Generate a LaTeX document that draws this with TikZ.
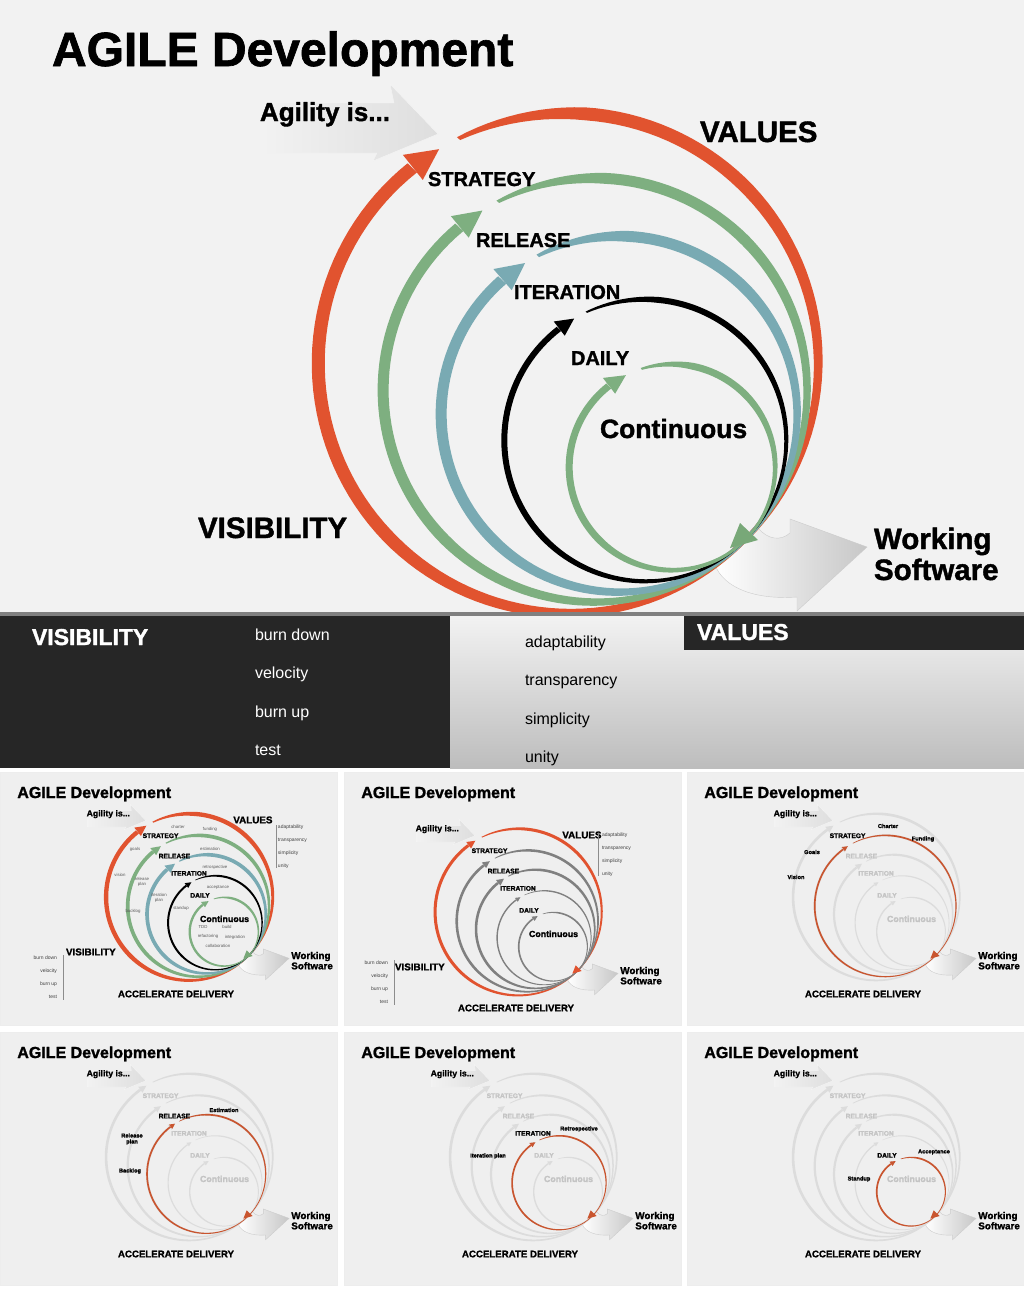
\documentclass[tikz,border=0pt]{standalone}
\usepackage{fontspec}
\setmainfont{Liberation Sans}[BoldFeatures={FakeBold=1.4}]
\usetikzlibrary{calc}

\definecolor{agred}{HTML}{E1532F}
\definecolor{aggreen}{HTML}{7EAF80}
\definecolor{agblue}{HTML}{79AAB3}
\definecolor{agtri}{HTML}{78A878}
\definecolor{slidebg}{HTML}{F2F2F2}
\definecolor{panelbg}{HTML}{EFEFEF}
\definecolor{bandblack}{HTML}{262626}
\definecolor{fade}{HTML}{DCDCDC}
\definecolor{fadetext}{HTML}{C4C4C4}
\definecolor{hilite}{HTML}{C9552F}

\colorlet{loopV}{agred}
\colorlet{loopS}{aggreen}
\colorlet{loopR}{agblue}
\colorlet{loopI}{black}
\colorlet{loopD}{aggreen}
\colorlet{tipP}{agtri}
\colorlet{labS}{black}
\colorlet{labR}{black}
\colorlet{labI}{black}
\colorlet{labD}{black}
\colorlet{labC}{black}
\def\wscale{1}

% one loop of the spiral: radius, colour, width, tail angle, tip angle
\newcommand\loopband[5]{%
  \pgfmathsetmacro\bandw{#3}%
  \pgfmathsetmacro\cx{745-0.7071*#1}%
  \pgfmathsetmacro\cy{-540+0.7071*#1}%
  \pgfmathsetmacro\hb{#5+deg((2*\bandw+6)/#1)}%
  \pgfmathsetmacro\ro{#1+\bandw+3}%
  \pgfmathsetmacro\ri{#1-\bandw-3}%
  \pgfmathsetmacro\sw{#4-\hb+360}%
  \begin{scope}[shift={(\cx,\cy)},
      declare function={aa(\s)=#4-\s*\sw;
        bw(\s)=\bandw*min(1,0.3+\s*8)*(0.35+0.65*min(1,abs(aa(\s)+45)/90));}]
    \fill[#2] plot[domain=0:1,samples=140,variable=\s]
        ({(#1+bw(\s)/2)*cos(aa(\s))},{(#1+bw(\s)/2)*sin(aa(\s))})
      -- plot[domain=0:1,samples=140,variable=\s]
        ({(#1-bw(1-\s)/2)*cos(aa(1-\s))},{(#1-bw(1-\s)/2)*sin(aa(1-\s))}) -- cycle;
    \fill[#2] (#5:#1) -- (\hb:\ro) -- (\hb:\ri) -- cycle;
  \end{scope}}

\newcommand\agiletitle{\node[heading] (title) at (52,-66) {AGILE Development};}

\newcommand\agilearrows{%
  \shadedraw[left color=slidebg,right color=black!13,draw=black!4]
    (262,-103) -- (394,-103) -- (390,-84) -- (438,-134) -- (373,-161)
    -- (377,-153) -- (262,-153) -- cycle;
  \shadedraw[left color=white,right color=black!22,draw=black!20]
    (758,-528) .. controls (768,-540) and (781,-541) .. (790,-533)
    -- (790,-519) -- (867,-547) -- (797,-611) -- (797,-597)
    .. controls (755,-600) and (724,-588) .. (715,-565) -- cycle;
}

\newcommand\agileloops{%
  \loopband{250}{loopV}{13*\wscale}{116.2}{121.1}
  \loopband{212}{loopS}{11*\wscale}{117.5}{122.1}
  \loopband{178}{loopR}{11*\wscale}{117.4}{121.9}
  \loopband{141}{loopI}{6*\wscale}{114.9}{120.3}
  \loopband{103}{loopD}{7*\wscale}{107.6}{116.7}
}

\newcommand\agiletip{\fill[tipP] (740,-523) -- (758,-540) -- (730,-548) -- cycle;}

\newcommand\agilelabels{%
  \node[agil] (agility) at (260,-121) {Agility is...};
  \node[stage,text=labS] (strategy) at (428,-186) {STRATEGY};
  \node[stage,text=labR] (release) at (476,-247) {RELEASE};
  \node[stage,text=labI] (iteration) at (514,-299) {ITERATION};
  \node[stage,text=labD] (daily) at (571,-365) {DAILY};
  \node[cont,text=labC] (continuous) at (600,-438) {Continuous};
  \node[bigword] (working) at (874,-580) {Working\\Software};
}

\newcommand\agilecorners{%
  \node[bigword] (values) at (700,-142) {VALUES};
  \node[bigword] (visibility) at (198,-538) {VISIBILITY};
}

% lists beside VALUES and VISIBILITY
\newcommand\valuelist[3]{%
  \foreach \w [count=\i] in {adaptability,transparency,simplicity,unity}
    \node[listitem,anchor=west] at (#1,{#2-39*(\i-1)}) {\w};
  \draw[black!45,line width=0.8pt] (#3,#2+6) -- (#3,#2-123);
}
\newcommand\visiblist[3]{%
  \foreach \w [count=\i] in {burn down,velocity,burn up,test}
    \node[listitem,anchor=east] at (#1,{#2-39*(\i-1)}) {\w};
  \draw[black!45,line width=0.8pt] (#3,#2+9) -- (#3,#2-126);
}

\newcommand\agilenotes{%
  \foreach \txt/\px/\py in {charter/534/153,funding/630/159,goals/405/219,
      estimation/630/219,vision/360/297,release\\plan/426/318,
      retrospective/645/273,iteration\\plan/477/365,acceptance/654/336,
      backlog/399/405,standup/543/396,TDD/609/453,build/681/453,
      refactoring/624/480,integration/705/483,collaboration/654/510}
    \node[note] at (\px,-\py) {\txt};
}

\newcommand\fadepanel{%
  \colorlet{loopV}{fade}\colorlet{loopS}{fade}\colorlet{loopR}{fade}%
  \colorlet{loopI}{fade}\colorlet{loopD}{fade}\colorlet{tipP}{hilite}%
  \colorlet{labS}{fadetext}\colorlet{labR}{fadetext}\colorlet{labI}{fadetext}%
  \colorlet{labD}{fadetext}\colorlet{labC}{fadetext}%
  \def\wscale{0.6}%
}

\begin{document}
\begin{tikzpicture}[x=1pt,y=1pt,
    every node/.style={inner sep=0pt,outer sep=0pt},
    heading/.style={anchor=base west,font=\bfseries\fontsize{48}{50}\selectfont},
    bigword/.style={anchor=base west,align=left,font=\bfseries\fontsize{29.5}{31}\selectfont},
    agil/.style={anchor=base west,font=\bfseries\fontsize{26}{28}\selectfont},
    stage/.style={anchor=base west,font=\bfseries\fontsize{20}{22}\selectfont},
    cont/.style={anchor=base west,font=\bfseries\fontsize{26.5}{28}\selectfont},
    delivery/.style={font=\bfseries\fontsize{29}{31}\selectfont},
    listitem/.style={font=\fontsize{15}{17}\selectfont,text=black!75},
    note/.style={align=center,font=\fontsize{13}{14}\selectfont,text=black!65},
    keynote/.style={align=center,font=\bfseries\fontsize{17}{18}\selectfont},
    bandhead/.style={anchor=base west,text=white,font=\bfseries\fontsize{23}{25}\selectfont},
    banditem/.style={anchor=base west,font=\fontsize{16}{18}\selectfont}]
  \useasboundingbox (0,0) rectangle (1024,-1291);
  \fill[white] (0,0) rectangle (1024,-1291);
  \fill[slidebg] (0,0) rectangle (1024,-614);

  % main slide
  \agiletitle
  \agilearrows
  \agileloops
  \agiletip
  \agilelabels
  \agilecorners

  % band
  \fill[black!50] (0,-612) rectangle (1024,-616);
  \fill[bandblack] (0,-616) rectangle (450,-768);
  \shade[top color=black!5,bottom color=black!26] (450,-616) rectangle (1024,-768);
  \fill[bandblack] (684,-616) rectangle (1024,-650);
  \node[bandhead] (bandvis) at (32,-645) {VISIBILITY};
  \node[bandhead] (bandval) at (697,-640) {VALUES};
  \foreach \w [count=\i] in {burn down,velocity,burn up,test}
    \node[banditem,text=white] at (255,{-640-38.5*(\i-1)}) {\w};
  \foreach \w [count=\i] in {adaptability,transparency,simplicity,unity}
    \node[banditem] at (525,{-647-38.5*(\i-1)}) {\w};

  % thumbnails
  \foreach \px/\py in {0/772,344/772,687/772,0/1032,344/1032,687/1032}
    \fill[panelbg,draw=black!7] (\px,-\py) rectangle ++(337,-253);

  \begin{scope}[shift={(0,-776)},scale=1/3,transform shape]
    \agiletitle
    \agilearrows
    \agileloops
    \agiletip
    \agilelabels
    \agilecorners
    \agilenotes
    \valuelist{834}{-153}{828}
    \visiblist{171}{-546}{189}
    \node[delivery] (delivery) at (528,-654) {ACCELERATE DELIVERY};
  \end{scope}

  \begin{scope}[shift={(344,-776)},scale=1/3,transform shape]
    \colorlet{loopS}{black!50}\colorlet{loopR}{black!50}\colorlet{loopI}{black!50}
    \colorlet{loopD}{black!50}\colorlet{tipP}{agred}\def\wscale{0.7}
    \agiletitle
    \begin{scope}[shift={(-45,-45)}]
      \agilearrows
      \agileloops
      \agiletip
      \agilelabels
      \agilecorners
    \end{scope}
    \valuelist{774}{-177}{762}
    \visiblist{132}{-561}{150}
    \node[delivery] (delivery) at (516,-696) {ACCELERATE DELIVERY};
  \end{scope}

  \begin{scope}[shift={(687,-776)},scale=1/3,transform shape]
    \fadepanel\colorlet{labS}{black}
    \agiletitle
    \agilearrows
    \agileloops
    \loopband{212}{hilite}{5}{117.5}{122.1}
    \agiletip
    \agilelabels
    \foreach \txt/\px/\py in {Charter/603/150,Funding/708/189,Goals/375/228,Vision/327/303}
      \node[keynote] at (\px,-\py) {\txt};
    \node[delivery] (delivery) at (528,-654) {ACCELERATE DELIVERY};
  \end{scope}

  \begin{scope}[shift={(0,-1036)},scale=1/3,transform shape]
    \fadepanel\colorlet{labR}{black}
    \agiletitle
    \agilearrows
    \agileloops
    \loopband{178}{hilite}{5}{117.4}{121.9}
    \agiletip
    \agilelabels
    \foreach \txt/\px/\py in {Estimation/672/222,Release\\plan/396/309,Backlog/390/405}
      \node[keynote] at (\px,-\py) {\txt};
    \node[delivery] (delivery) at (528,-654) {ACCELERATE DELIVERY};
  \end{scope}

  \begin{scope}[shift={(344,-1036)},scale=1/3,transform shape]
    \fadepanel\colorlet{labI}{black}
    \agiletitle
    \agilearrows
    \agileloops
    \loopband{141}{hilite}{5}{114.9}{120.3}
    \agiletip
    \agilelabels
    \foreach \txt/\px/\py in {Retrospective/705/279,Iteration plan/432/360}
      \node[keynote] at (\px,-\py) {\txt};
    \node[delivery] (delivery) at (528,-654) {ACCELERATE DELIVERY};
  \end{scope}

  \begin{scope}[shift={(687,-1036)},scale=1/3,transform shape]
    \fadepanel\colorlet{labD}{black}
    \agiletitle
    \agilearrows
    \agileloops
    \loopband{103}{hilite}{5}{107.6}{116.7}
    \agiletip
    \agilelabels
    \foreach \txt/\px/\py in {Acceptance/741/348,Standup/516/429}
      \node[keynote] at (\px,-\py) {\txt};
    \node[delivery] (delivery) at (528,-654) {ACCELERATE DELIVERY};
  \end{scope}
\end{tikzpicture}
\end{document}
